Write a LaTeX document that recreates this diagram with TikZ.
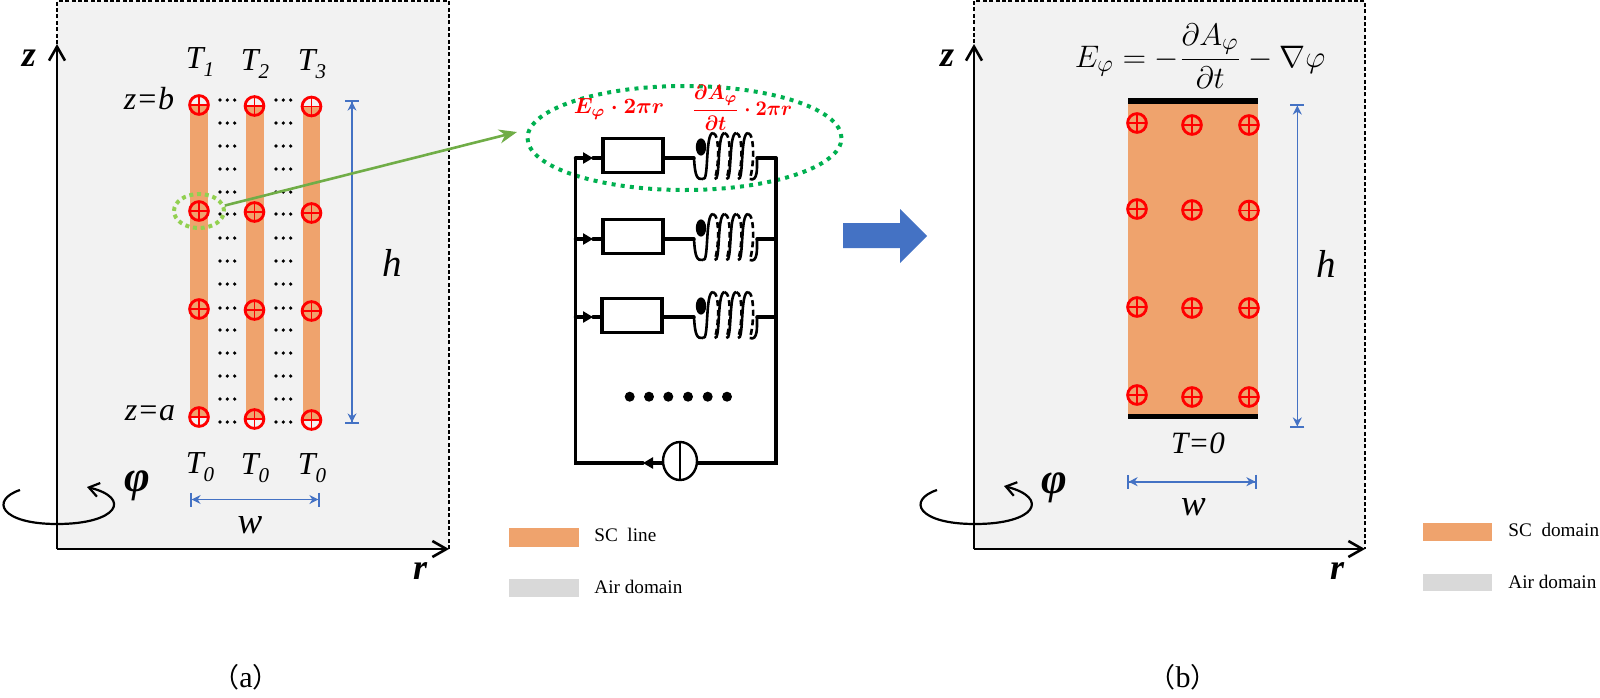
\documentclass[tikz,border=0pt]{standalone}
\usepackage{amsmath}
\usepackage{amssymb}
\usepackage{fontspec}
\setmainfont{Liberation Serif}
\newfontfamily\cjk{Noto Sans CJK SC}
\usepackage{tikz}
\usetikzlibrary{arrows.meta,shapes.geometric,positioning}
\usepackage{xcolor}
\definecolor{scorange}{RGB}{239,163,109}
\definecolor{airgray}{RGB}{242,242,242}
\definecolor{legendgray}{RGB}{217,217,217}
\definecolor{dimblue}{RGB}{68,114,196}
\definecolor{linkgreen}{RGB}{112,173,71}
\definecolor{spotgreen}{RGB}{146,208,80}
\definecolor{loopgreen}{RGB}{0,176,80}
\tikzstyle{axis} = [line width=1.3pt,-{Straight Barb[length=7pt,width=8pt,line width=1.3pt]}]
\tikzstyle{frame} = [dashed,line width=0.6pt,dash pattern=on 2pt off 1.2pt]
\tikzstyle{dimline} = [line width=0.8pt,color=dimblue]
\tikzstyle{wire} = [line width=1.7pt,line cap=round]
\tikzstyle{cross} = [circle, draw=red, line width=1.4pt, minimum size=9.4pt, inner sep=0pt,
  path picture={\draw[red,line width=0.9pt] (path picture bounding box.north) -- (path picture bounding box.south)
  (path picture bounding box.west) -- (path picture bounding box.east);}]
\tikzstyle{resbox} = [rectangle, draw=black, line width=1.7pt, minimum width=30pt, minimum height=17pt, inner sep=0pt]
\tikzstyle{lab} = [inner sep=0pt, font=\fontsize{16}{18}\selectfont\itshape]
\tikzstyle{boldlab} = [inner sep=0pt, font=\fontsize{18}{20}\selectfont\bfseries\itshape]
\tikzstyle{legendtext} = [inner sep=0pt, anchor=west, font=\fontsize{9.6}{11}\selectfont]
\tikzset{coil/.pic={
  \coordinate (-in) at (0,0);
  \coordinate (-out) at (63,0);
  \fill[black] (7,-11) ellipse [x radius=5.2, y radius=8.6];
  \draw[line width=1.3pt] (0,0) .. controls (1,18) and (3,22) .. (9,21);
  \foreach \k in {0,1,2,3} {
    \draw[line width=1.3pt] ({9+11.67*\k},21) .. controls ({15+11.67*\k},24) and ({11+11.67*\k},-25) .. ({19+11.67*\k},-25);
    \draw[line width=1.3pt,dash pattern=on 3pt off 1.8pt] ({19+11.67*\k},-25) .. controls ({26+11.67*\k},-24) and ({25+11.67*\k},10) .. ({20.67+11.67*\k},21);
  }
  \draw[line width=1.3pt] (55.7,21) .. controls (64,24) and (63,10) .. (63,0);
}}
\newcommand{\Tsub}[1]{T\raisebox{-0.55ex}{\fontsize{10.5}{12}\selectfont #1}}

\begin{document}
\begin{tikzpicture}[x=0.5pt,y=-0.5pt]
\useasboundingbox (0,0) rectangle (1600,697);

% Air domains
\fill[airgray] (57,1) rectangle (449,549);
\fill[airgray] (974,1) rectangle (1365,549);
\draw[frame] (57,44) -- (57,1) -- (449,1) -- (449,549);
\draw[frame] (974,549) -- (974,1) -- (1365,1) -- (1365,549);

% SC lines
\fill[scorange] (190,105) rectangle (208,418);
\fill[scorange] (245.5,106) rectangle (263.5,419);
\fill[scorange] (302.5,107) rectangle (320,420);

% Dots between the lines
\foreach \y in {100,123,146,169,192,214,238,261,284,308,330,353,376,399,422} {
  \foreach \x in {220,227.3,234.7,276,283.3,290.7} {
    \fill[black] (\x,\y) circle (1.8);
  }
}

% Conductors (a)
\node[cross] (c11) at (199,105) {};
\node[cross] (c12) at (254.5,106) {};
\node[cross] (c13) at (311.5,106.5) {};
\node[cross] (c21) at (199,211) {};
\node[cross] (c22) at (254.5,212) {};
\node[cross] (c23) at (311.5,213) {};
\node[cross] (c31) at (199,309) {};
\node[cross] (c32) at (254.5,310) {};
\node[cross] (c33) at (311.5,311) {};
\node[cross] (c41) at (199,417) {};
\node[cross] (c42) at (254.5,419) {};
\node[cross] (c43) at (311.5,420) {};

% Labels (a)
\node[boldlab] (zleft) at (29,58) {z};
\node[boldlab] (rleft) at (420,571) {r};
\node[boldlab, font=\fontsize{22}{24}\selectfont\bfseries\itshape] (phileft) at (137.5,486) {φ};
\node[lab] (t1) at (200,62) {\Tsub{1}};
\node[lab] (t2) at (255,64) {\Tsub{2}};
\node[lab] (t3) at (312,64) {\Tsub{3}};
\node[lab] (t01) at (200,467) {\Tsub{0}};
\node[lab] (t02) at (255,468) {\Tsub{0}};
\node[lab] (t03) at (312,468) {\Tsub{0}};
\node[lab] (zb) at (149,99) {z=b};
\node[lab] (za) at (150,413) {z=a};
\node[lab, font=\fontsize{19.5}{22}\selectfont\itshape] (hleft) at (392,263) {h};
\node[lab, font=\fontsize{18.5}{22}\selectfont\itshape] (wleft) at (250,525) {w};

% Axes (a)
\coordinate (oleft) at (57,549);
\coordinate (zleftend) at (57,44);
\coordinate (rleftend) at (449,549);
\draw[axis] (oleft) -- (zleftend);
\draw[axis] (oleft) -- (rleftend);
\coordinate (phistart) at (20,490);
\coordinate (phiend) at (87,487);
\draw[line width=1.1pt,-{Straight Barb[length=5pt,width=7pt,line width=1.1pt]}] (phistart) .. controls (-10,500) and (0,524) .. (57,524) .. controls (118,524) and (132,498) .. (phiend);

% Dimensions (a)
\coordinate (htop) at (352,100);
\coordinate (hbot) at (352,424);
\coordinate (wleftend) at (190,499.5);
\coordinate (wrightend) at (320,499.5);
\draw[dimline,{Bar[width=7pt]Stealth[length=4.5pt,width=4.5pt]}-{Stealth[length=4.5pt,width=4.5pt]Bar[width=7pt]}] (htop) -- (hbot);
\draw[dimline,{Bar[width=7pt]Stealth[length=4.5pt,width=4.5pt]}-{Stealth[length=4.5pt,width=4.5pt]Bar[width=7pt]}] (wleftend) -- (wrightend);

% Circuit
\node[ellipse, draw=spotgreen, line width=2pt, dash pattern=on 2pt off 1.9pt, minimum width=25pt, minimum height=17pt] (spot) at (199,211) {};
\node[ellipse, draw=loopgreen, line width=2pt, dash pattern=on 2pt off 2.6pt, minimum width=157pt, minimum height=52pt] (loop) at (684.5,138) {};
\coordinate (linktip) at (517,132);
\draw[line width=1.3pt, linkgreen, -{Stealth[length=9pt,width=7pt]}] (spot.12) -- (linktip);

\node[resbox] (res1) at (633,155.5) {};
\node[resbox] (res2) at (633,236.5) {};
\node[resbox] (res3) at (632,315.5) {};
\pic (coil1) at (694,158) {coil};
\pic (coil2) at (694,239) {coil};
\pic (coil3) at (694,317) {coil};
\node[ellipse, draw=black, line width=1.2pt, minimum width=17pt, minimum height=19pt, inner sep=0pt] (src) at (680,461) {};
\draw[line width=1.2pt] (src.north) -- (src.south);

\coordinate (busl1) at (575.5,158);
\coordinate (busl2) at (575.5,239);
\coordinate (busl3) at (575.5,317);
\coordinate (busr1) at (776,158);
\coordinate (busr2) at (776,239);
\coordinate (busr3) at (776,317);
\coordinate (corl) at (575.5,463);
\coordinate (corr) at (776,463);
\coordinate (srcl) at (662,463);
\coordinate (srcr) at (698,463);
\coordinate (srctip) at (643,463);
\coordinate (tip1) at (593,158);
\coordinate (tip2) at (593,239);
\coordinate (tip3) at (593,317);
\draw[wire] (busl1) -- (corl) -- (srctip);
\draw[wire] (busr1) -- (corr) -- (srcr);
\draw[wire,-{Triangle[length=5pt,width=5.5pt]}] (srcl) -- (srctip);
\draw[wire,-{Triangle[length=5pt,width=5.5pt]}] (busl1) -- (tip1);
\draw[wire,-{Triangle[length=5pt,width=5.5pt]}] (busl2) -- (tip2);
\draw[wire,-{Triangle[length=5pt,width=5.5pt]}] (busl3) -- (tip3);
\draw[wire] (tip1) -- (tip1 -| res1.west);
\draw[wire] (tip2) -- (tip2 -| res2.west);
\draw[wire] (tip3) -- (tip3 -| res3.west);
\draw[wire] (coil1-in -| res1.east) -- (coil1-in);
\draw[wire] (coil2-in -| res2.east) -- (coil2-in);
\draw[wire] (coil3-in -| res3.east) -- (coil3-in);
\draw[wire] (coil1-out) -- (busr1);
\draw[wire] (coil2-out) -- (busr2);
\draw[wire] (coil3-out) -- (busr3);
\foreach \x in {629.7,649,668.3,688,707.7,727} {
  \fill[black] (\x,396.7) circle (5);
}

% Red labels
\node[red, inner sep=0pt, font=\fontsize{11}{13}\selectfont\boldmath] (eres) at (619,109) {$E_{\varphi}\cdot 2\pi r$};
\node[red, inner sep=0pt, font=\fontsize{11}{13}\selectfont\boldmath] (ecoil) at (742,108) {\scalebox{0.9}[0.95]{$\dfrac{\partial A_{\varphi}}{\partial t}\cdot 2\pi r$}};

% Domain (b)
\fill[scorange] (1128,104) rectangle (1257.5,414);
\fill[black] (1128,98) rectangle (1257.5,104);
\fill[black] (1128,414) rectangle (1257.5,419);

\node[cross] (d11) at (1137,123) {};
\node[cross] (d12) at (1192,125) {};
\node[cross] (d13) at (1249,125) {};
\node[cross] (d21) at (1137,209) {};
\node[cross] (d22) at (1192,210) {};
\node[cross] (d23) at (1249,210.5) {};
\node[cross] (d31) at (1137,307) {};
\node[cross] (d32) at (1192,308) {};
\node[cross] (d33) at (1249,308) {};
\node[cross] (d41) at (1137,395) {};
\node[cross] (d42) at (1192,397) {};
\node[cross] (d43) at (1249,397) {};

% Labels (b)
\node[boldlab] (zright) at (947,58) {z};
\node[boldlab] (rright) at (1337,571) {r};
\node[boldlab, font=\fontsize{22}{24}\selectfont\bfseries\itshape] (phiright) at (1054,488) {φ};
\node[lab, font=\fontsize{15.5}{18}\selectfont\itshape] (tzero) at (1198,443) {T=0};
\node[lab, font=\fontsize{19.5}{22}\selectfont\itshape] (hright) at (1326,264) {h};
\node[lab, font=\fontsize{18.5}{22}\selectfont\itshape] (wright) at (1193.5,507) {w};
\node[inner sep=0pt, font=\fontsize{15.5}{18}\selectfont] (eqn) at (1200,56) {\scalebox{1.08}{$E_{\varphi}=-\dfrac{\partial A_{\varphi}}{\partial t}-\nabla\varphi$}};

% Axes (b)
\coordinate (oright) at (974,549);
\coordinate (zrightend) at (974,44);
\coordinate (rrightend) at (1365,549);
\draw[axis] (oright) -- (zrightend);
\draw[axis] (oright) -- (rrightend);
\coordinate (psistart) at (937,490);
\coordinate (psiend) at (1004,486);
\draw[line width=1.1pt,-{Straight Barb[length=5pt,width=7pt,line width=1.1pt]}] (psistart) .. controls (907,500) and (917,524) .. (975,524) .. controls (1036,524) and (1050,498) .. (psiend);

% Dimensions (b)
\coordinate (htopb) at (1297.3,104);
\coordinate (hbotb) at (1297.3,428);
\coordinate (wleftb) at (1127,481.7);
\coordinate (wrightb) at (1257,481.7);
\draw[dimline,{Bar[width=7pt]Stealth[length=4.5pt,width=4.5pt]}-{Stealth[length=4.5pt,width=4.5pt]Bar[width=7pt]}] (htopb) -- (hbotb);
\draw[dimline,{Bar[width=7pt]Stealth[length=4.5pt,width=4.5pt]}-{Stealth[length=4.5pt,width=4.5pt]Bar[width=7pt]}] (wleftb) -- (wrightb);

% Big arrow
\fill[dimblue] (843,223) -- (900,223) -- (900,209) -- (927,236) -- (900,263) -- (900,248) -- (843,248) -- cycle;

% Legends
\fill[scorange] (509,528) rectangle (578.5,547);
\fill[legendgray] (509,579) rectangle (578.5,597);
\node[legendtext] (lega) at (594,535) {SC\hspace{0.5em}line};
\node[legendtext] (legb) at (594,587) {Air domain};
\fill[scorange] (1423,523) rectangle (1492,541);
\fill[legendgray] (1423,574) rectangle (1492,591);
\node[legendtext] (legc) at (1508,530) {SC\hspace{0.5em}domain};
\node[legendtext] (legd) at (1508,582) {Air domain};

% Captions
\node[inner sep=0pt, font=\fontsize{15}{17}\selectfont] (capa) at (246,677) {{\fontsize{13.5}{17}\selectfont\cjk （}a{\fontsize{13.5}{17}\selectfont\cjk ）}};
\node[inner sep=0pt, font=\fontsize{15}{17}\selectfont] (capb) at (1183,677) {{\fontsize{13.5}{17}\selectfont\cjk （}b{\fontsize{13.5}{17}\selectfont\cjk ）}};
\end{tikzpicture}
\end{document}
